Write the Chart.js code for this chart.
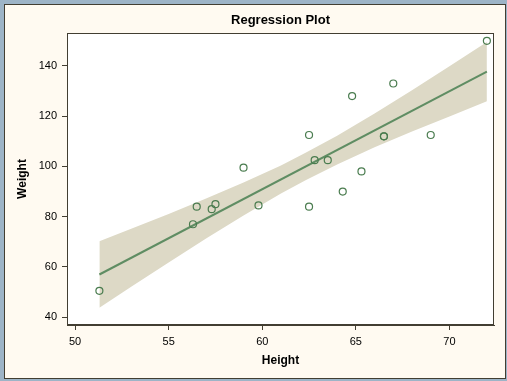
<!DOCTYPE html>
<html>
<head>
<meta charset="utf-8">
<script src="https://cdn.jsdelivr.net/npm/chart.js@4.4.1/dist/chart.umd.min.js"></script>
<style>
  html, body { margin: 0; padding: 0; }
  body { width: 507px; height: 381px; background: #9db4c7; position: relative; overflow: hidden; }
  #frame { position: absolute; left: 4px; top: 4px; width: 502px; height: 375px; box-sizing: border-box;
           border: 1px solid #423e32; background: #fffaf1; }
  #wrap { position: absolute; left: 0; top: 0; width: 507px; height: 381px; }
</style>
</head>
<body>
<div id="frame"></div>
<div id="wrap"><canvas id="c" width="507" height="381"></canvas></div>
<script>
// Observations (Height, Weight)
const heights = [69.0, 56.5, 65.3, 62.8, 63.5, 57.3, 59.8, 62.5, 62.5, 59.0, 51.3, 64.3, 56.3, 66.5, 72.0, 64.8, 67.0, 57.5, 66.5];
const weights = [112.5, 84.0, 98.0, 102.5, 102.5, 83.0, 84.5, 112.5, 84.0, 99.5, 50.5, 90.0, 77.0, 112.0, 150.0, 128.0, 133.0, 85.0, 112.0];

// Fitted regression line
const fitX = [51.3, 72.0];
const fitY = [57.0, 137.7];

// Confidence band
const bandX     = [51.3, 53, 55, 57, 59, 61, 62.34, 64, 66, 68, 70, 72];
const bandLower = [43.8, 52.1, 61.8, 71.3, 80.5, 89.2, 94.6, 100.8, 107.6, 113.9, 119.9, 125.9];
const bandUpper = [70.2, 75.2, 81.1, 87.2, 93.6, 100.4, 105.5, 112.2, 121.1, 130.3, 139.9, 149.5];

// Tick labels
const xTicks = [50, 55, 60, 65, 70];
const yTicks = [40, 60, 80, 100, 120, 140];

const titleText = 'Regression Plot';
const xTitle = 'Height';
const yTitle = 'Weight';

const FONT = "'Liberation Sans', Arial, sans-serif";
const DARK = '#423e32';

const pts = heights.map((h, i) => ({ x: h, y: weights[i] }));
const fitPts = fitX.map((x, i) => ({ x, y: fitY[i] }));
const lowPts = bandX.map((x, i) => ({ x, y: bandLower[i] }));
const upPts = bandX.map((x, i) => ({ x, y: bandUpper[i] }));

const framePlugin = {
  id: 'framePlugin',
  beforeDraw(chart) {
    const { ctx, chartArea: a } = chart;
    ctx.save();
    ctx.fillStyle = '#ffffff';
    ctx.fillRect(a.left, a.top, a.right - a.left, a.bottom - a.top);
    ctx.restore();
  },
  afterDraw(chart) {
    const { ctx, chartArea: a } = chart;
    ctx.save();
    ctx.strokeStyle = DARK;
    ctx.lineWidth = 1;
    ctx.strokeRect(Math.round(a.left) + 0.5, Math.round(a.top) + 0.5,
                   Math.round(a.right - a.left) - 1, Math.round(a.bottom - a.top) - 1);
    ctx.fillStyle = '#000';
    ctx.font = 'bold 13px ' + FONT;
    ctx.textAlign = 'center';
    ctx.textBaseline = 'middle';
    ctx.fillText(titleText, (a.left + a.right) / 2, 20.5);
    ctx.restore();
  }
};

new Chart(document.getElementById('c'), {
  type: 'scatter',
  data: {
    datasets: [
      { label: 'Weight', data: pts, order: 0, showLine: false,
        pointStyle: 'circle', pointRadius: 3.5, pointHoverRadius: 3.5,
        borderColor: '#4a7c4f', borderWidth: 1.2, backgroundColor: 'rgba(0,0,0,0)' },
      { label: 'Fit', data: fitPts, order: 1, showLine: true, pointRadius: 0,
        borderColor: '#5f8d63', borderWidth: 2, fill: false },
      { label: 'Lower', data: lowPts, order: 3, showLine: true, pointRadius: 0,
        borderWidth: 0, borderColor: 'rgba(0,0,0,0)', fill: false },
      { label: 'Upper', data: upPts, order: 2, showLine: true, pointRadius: 0,
        borderWidth: 0, borderColor: 'rgba(0,0,0,0)', backgroundColor: '#ddd9c6', fill: '-1' }
    ]
  },
  options: {
    responsive: false,
    animation: false,
    devicePixelRatio: 1,
    layout: { padding: { left: 0, right: 13, top: 33, bottom: 0 } },
    plugins: { legend: { display: false }, tooltip: { enabled: false }, title: { display: false } },
    scales: {
      x: {
        type: 'linear', min: 49.57, max: 72.38,
        afterBuildTicks: s => { s.ticks = xTicks.map(v => ({ value: v })); },
        afterFit: s => { s.height = 56; },
        grid: { drawOnChartArea: false, drawTicks: true, tickLength: 5, color: DARK, tickColor: DARK },
        border: { display: true, color: DARK },
        ticks: { color: '#000', font: { family: FONT, size: 11 }, padding: 5, maxRotation: 0 },
        title: { display: true, text: xTitle, color: '#000', font: { family: FONT, size: 12, weight: 'bold' }, padding: { top: 0, bottom: 13 } }
      },
      y: {
        type: 'linear', min: 36.9, max: 153.1,
        afterBuildTicks: s => { s.ticks = yTicks.map(v => ({ value: v })); },
        afterFit: s => { s.width = 67; },
        grid: { drawOnChartArea: false, drawTicks: true, tickLength: 5, color: DARK, tickColor: DARK },
        border: { display: true, color: DARK },
        ticks: { color: '#000', font: { family: FONT, size: 11 }, padding: 5 },
        title: { display: true, text: yTitle, color: '#000', font: { family: FONT, size: 12, weight: 'bold' }, padding: { top: 15, bottom: 0 } }
      }
    }
  },
  plugins: [framePlugin]
});
</script>
</body>
</html>
